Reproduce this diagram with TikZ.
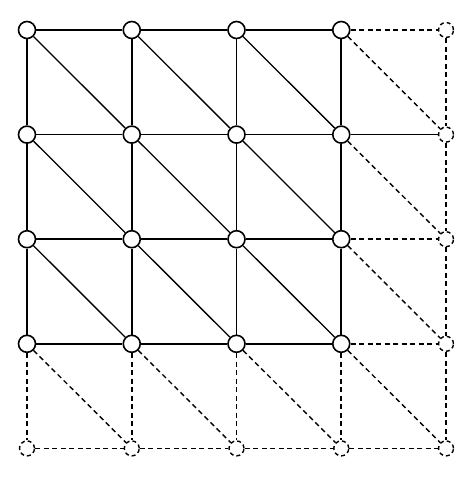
\documentclass[tikz,border=0pt]{standalone}
\begin{document}
\begin{tikzpicture}[x=1pt,y=-1pt,
  solidnode/.style={circle,draw,fill=white,line width=1.6pt,minimum size=17pt,inner sep=0pt},
  dashnode/.style={circle,draw,fill=white,line width=1.4pt,minimum size=15pt,inner sep=0pt,dash pattern=on 4pt off 3pt},
  gridline/.style={line width=1.8pt},
  diagline/.style={line width=1.3pt},
  dashline/.style={line width=1.6pt,dash pattern=on 5pt off 3.5pt},
  dashdiag/.style={line width=1.4pt,dash pattern=on 5pt off 3.5pt}]
\useasboundingbox (0,0) rectangle (474,481);
\foreach \i in {1,...,5}{
  \foreach \j in {1,...,5}{
    \pgfmathsetmacro{\xx}{27+(\i-1)*104.75}
    \pgfmathsetmacro{\yy}{30+(\j-1)*104.6}
    \pgfmathtruncatemacro{\issolid}{(\i<5)&&(\j<5)}
    \ifnum\issolid=1
      \node[solidnode] (n\i\j) at (\xx,\yy) {};
    \else
      \node[dashnode] (n\i\j) at (\xx,\yy) {};
    \fi
  }
}
% solid horizontals
\foreach \j in {1,...,4}{
  \foreach \i [evaluate=\i as \k using int(\i+1)] in {1,...,3}{
    \draw[gridline] (n\i\j) -- (n\k\j);
  }
}
\draw[gridline] (n42) -- (n52);
% solid verticals
\foreach \i in {1,...,4}{
  \foreach \j [evaluate=\j as \k using int(\j+1)] in {1,...,3}{
    \draw[gridline] (n\i\j) -- (n\i\k);
  }
}
% solid diagonals
\foreach \i [evaluate=\i as \a using int(\i+1)] in {1,...,3}{
  \foreach \j [evaluate=\j as \b using int(\j+1)] in {1,...,3}{
    \draw[diagline] (n\i\j) -- (n\a\b);
  }
}
% dashed horizontals
\foreach \j in {1,3,4}{ \draw[dashline] (n4\j) -- (n5\j); }
\foreach \i [evaluate=\i as \k using int(\i+1)] in {1,...,4}{ \draw[dashline] (n\i5) -- (n\k5); }
% dashed verticals
\foreach \j [evaluate=\j as \k using int(\j+1)] in {1,...,4}{ \draw[dashline] (n5\j) -- (n5\k); }
\foreach \i in {1,...,4}{ \draw[dashline] (n\i4) -- (n\i5); }
% dashed diagonals
\foreach \j [evaluate=\j as \k using int(\j+1)] in {1,...,4}{ \draw[dashdiag] (n4\j) -- (n5\k); }
\foreach \i [evaluate=\i as \k using int(\i+1)] in {1,...,3}{ \draw[dashdiag] (n\i4) -- (n\k5); }
\end{tikzpicture}
\end{document}
